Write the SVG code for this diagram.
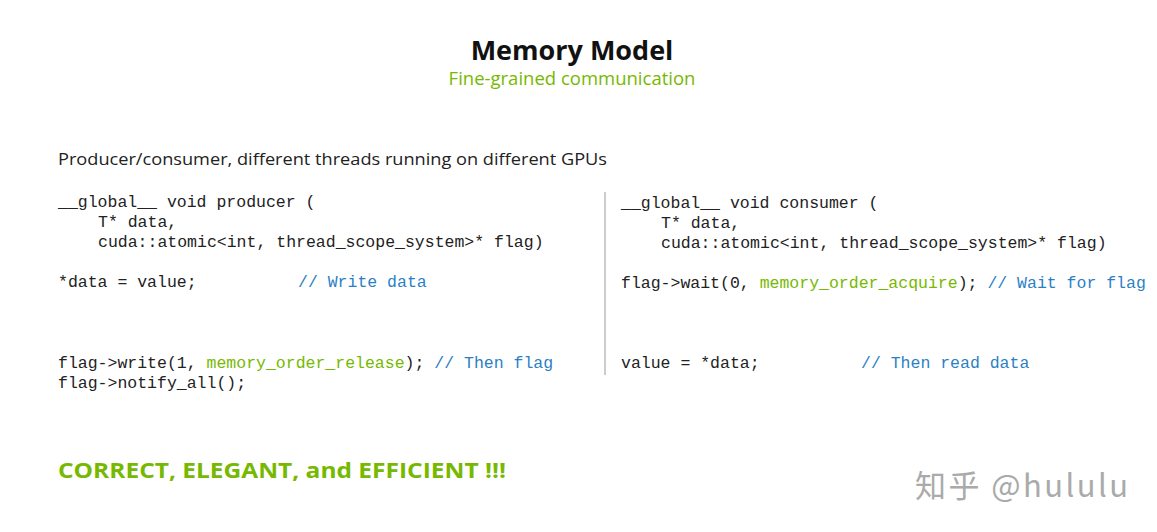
<svg xmlns="http://www.w3.org/2000/svg" width="1157" height="532" viewBox="0 0 1157 532">
<style>
.c{font-family:"Liberation Mono","DejaVu Sans Mono",monospace;font-size:16.5px;fill:#222}
.g{fill:#76b900}.b{fill:#2b7fc4}
.s{font-family:"Open Sans",Lato,sans-serif}
</style>
<rect width="1157" height="532" fill="#fff"/>
<text x="572" y="60" text-anchor="middle" class="s" font-size="27" font-weight="bold" fill="#111">Memory Model</text>
<text x="572" y="85" text-anchor="middle" class="s" font-size="18.5" fill="#76b900">Fine-grained communication</text>
<text x="58" y="165" class="s" font-size="16.5" fill="#222" textLength="549" lengthAdjust="spacingAndGlyphs">Producer/consumer, different threads running on different GPUs</text>
<g id="producer" class="c">
<text x="58" y="207">__global__ void producer (</text>
<text x="98" y="227">T* data,</text>
<text x="98" y="247">cuda::atomic&lt;int, thread_scope_system&gt;* flag)</text>
<text x="58" y="287">*data = value;<tspan x="298" class="b">// Write data</tspan></text>
<text x="58" y="368">flag-&gt;write(1, <tspan class="g">memory_order_release</tspan>); <tspan class="b">// Then flag</tspan></text>
<text x="58" y="388">flag-&gt;notify_all();</text>
</g>
<line x1="605" y1="192" x2="605" y2="375" stroke="#bbb" stroke-width="1.5"/>
<g id="consumer" class="c">
<text x="621" y="208">__global__ void consumer (</text>
<text x="661" y="228">T* data,</text>
<text x="661" y="248">cuda::atomic&lt;int, thread_scope_system&gt;* flag)</text>
<text x="621" y="288">flag-&gt;wait(0, <tspan class="g">memory_order_acquire</tspan>); <tspan class="b">// Wait for flag</tspan></text>
<text x="621" y="368">value = *data;<tspan x="861" class="b">// Then read data</tspan></text>
</g>
<text x="58" y="478" class="s" font-size="22" font-weight="bold" fill="#76b900" textLength="448" lengthAdjust="spacingAndGlyphs">CORRECT, ELEGANT, and EFFICIENT !!!</text>
<text x="915" y="497" font-family="'Noto Sans CJK SC',sans-serif" font-size="31" fill="#aaa" textLength="213">知乎 @hululu</text>
</svg>
